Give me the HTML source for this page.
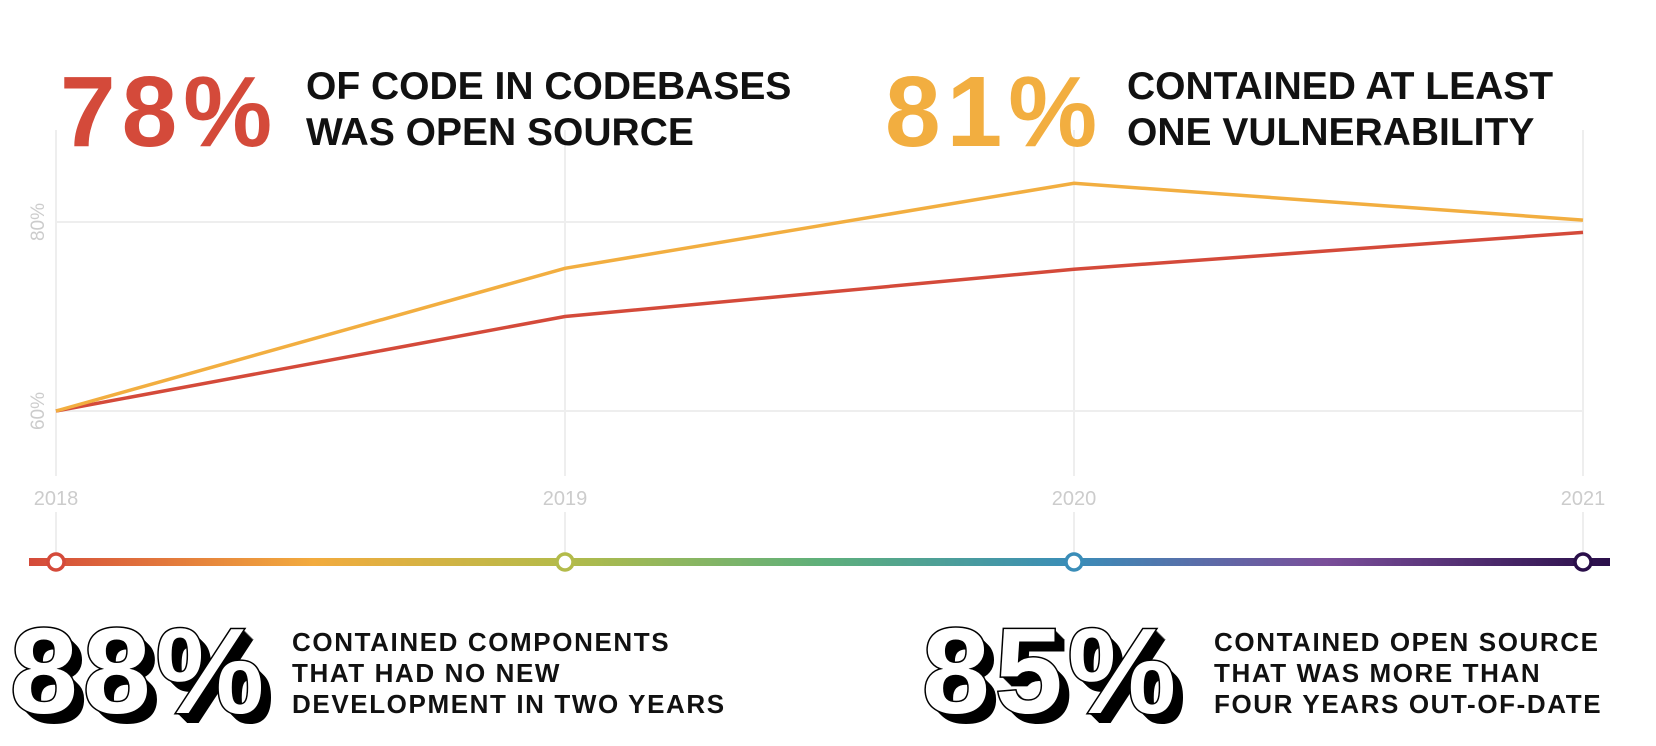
<!DOCTYPE html>
<html><head><meta charset="utf-8"><style>
body{margin:0;background:#fff;width:1656px;height:746px;overflow:hidden;position:relative;font-family:"Liberation Sans",sans-serif}
.big{position:absolute;font-weight:bold;line-height:1}
.cap{position:absolute;font-weight:bold;color:#111;line-height:1}
.out{color:#fff;-webkit-text-stroke:3px #000;paint-order:stroke fill;letter-spacing:5px;
text-shadow:1px 1px 0 #000,2px 2px 0 #000,3px 3px 0 #000,4px 4px 0 #000,5px 5px 0 #000,6px 6px 0 #000,7px 7px 0 #000,8px 8px 0 #000,9px 9px 0 #000,10px 10px 0 #000}
</style></head><body>
<svg id="chart" width="1656" height="746" style="position:absolute;left:0;top:0">
<defs><linearGradient id="g" x1="29" x2="1610" gradientUnits="userSpaceOnUse">
<stop offset="0" stop-color="#d44a3a"/><stop offset="0.18" stop-color="#f2ab3e"/><stop offset="0.34" stop-color="#b3bb4a"/><stop offset="0.5" stop-color="#5fb07a"/><stop offset="0.66" stop-color="#3a8db8"/><stop offset="0.82" stop-color="#7a4e9a"/><stop offset="1" stop-color="#2a0f4a"/></linearGradient></defs>
<g id="grid"></g><g id="lines"></g><g id="tl"></g>
</svg>
<div class="big" style="left:60px;top:62px;font-size:100px;letter-spacing:6px;color:#d44a3a">78%</div>
<div class="cap" style="left:306px;top:64px;font-size:39px;line-height:46px">OF CODE IN CODEBASES<br>WAS OPEN SOURCE</div>
<div class="big" style="left:885px;top:62px;font-size:100px;letter-spacing:6px;color:#f2ae40">81%</div>
<div class="cap" style="left:1127px;top:64px;font-size:39px;line-height:46px">CONTAINED AT LEAST<br>ONE VULNERABILITY</div>
<div class="big out" style="left:10px;top:610px;font-size:122px">88%</div>
<div class="cap" style="left:292px;top:627px;font-size:26px;line-height:31px;letter-spacing:1.6px">CONTAINED COMPONENTS<br>THAT HAD NO NEW<br>DEVELOPMENT IN TWO YEARS</div>
<div class="big out" style="left:922px;top:610px;font-size:122px">85%</div>
<div class="cap" style="left:1214px;top:627px;font-size:26px;line-height:31px;letter-spacing:1.6px">CONTAINED OPEN SOURCE<br>THAT WAS MORE THAN<br>FOUR YEARS OUT-OF-DATE</div>
<script>
const years=["2018","2019","2020","2021"];
const codeOpenSource=[60,70,75,78.9];
const vulnerable=[60,75.1,84.1,80.2];
const yTicks=[60,80];
const tlColors=["#d44a3a","#b3bb4a","#3a8db8","#2a0f4a"];
const NS="http://www.w3.org/2000/svg";
const x=i=>56+i*(1583-56)/(years.length-1);
const y=v=>411-(v-60)*(411-222)/20;
function mk(t,a,p){const e=document.createElementNS(NS,t);for(const k in a)e.setAttribute(k,a[k]);p.appendChild(e);return e;}
const grid=document.getElementById('grid'),lines=document.getElementById('lines'),tl=document.getElementById('tl');
yTicks.forEach(v=>{
 const l=mk('line',{x1:56,x2:1583,y1:y(v),y2:y(v),stroke:'#eee','stroke-width':2},grid);
 
 
 const t=mk('text',{x:0,y:0,transform:`translate(44,${y(v)}) rotate(-90)`,'text-anchor':'middle','font-size':19,fill:'#ccc','font-family':'Liberation Sans'},grid);
 t.textContent=v+'%';
 
 
});
years.forEach((yr,i)=>{
 const g1=mk('line',{x1:x(i),x2:x(i),y1:130,y2:476,stroke:'#eee','stroke-width':2},grid);
 
 
 mk('line',{x1:x(i),x2:x(i),y1:512,y2:556,stroke:'#eee','stroke-width':2},grid);
 const t=mk('text',{x:x(i),y:505,'text-anchor':'middle','font-size':20,fill:'#ccc','font-family':'Liberation Sans'},grid);
 t.textContent=yr;
 
 
});
function series(vals,color,name){
 const p=mk('polyline',{points:vals.map((v,i)=>x(i)+','+y(v)).join(' '),fill:'none',stroke:color,'stroke-width':3.5},lines);
 
 
}
series(codeOpenSource,'#d44a3a','open-source-line');
series(vulnerable,'#f2ae40','vulnerability-line');
const bar=mk('rect',{x:29,y:558,width:1581,height:8,fill:'url(#g)'},tl);


years.forEach((yr,i)=>{
 const c=mk('circle',{cx:x(i),cy:562,r:8,fill:'#fff',stroke:tlColors[i],'stroke-width':3.5},tl);
 
 
});
</script>
</body></html>
